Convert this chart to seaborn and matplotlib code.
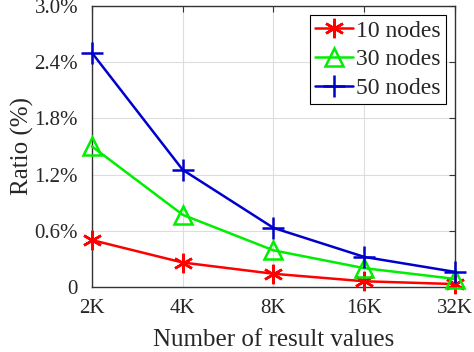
import matplotlib
matplotlib.use('Agg')
import matplotlib.pyplot as plt
import seaborn as sns
import pandas as pd

sizes = ['2K', '4K', '8K', '16K', '32K']
nodes_10 = [0.50, 0.26, 0.14, 0.06, 0.03]
nodes_30 = [1.50, 0.77, 0.39, 0.20, 0.085]
nodes_50 = [2.50, 1.25, 0.63, 0.32, 0.16]
yticks = [0, 0.6, 1.2, 1.8, 2.4, 3.0]
ytick_labels = ['0', '0.6%', '1.2%', '1.8%', '2.4%', '3.0%']

sns.set_style('white')
plt.rcParams['font.family'] = ['Liberation Serif', 'DejaVu Serif']

df = pd.DataFrame({
    'x': list(range(len(sizes))) * 3,
    'ratio': nodes_10 + nodes_30 + nodes_50,
    'series': ['10 nodes'] * 5 + ['30 nodes'] * 5 + ['50 nodes'] * 5,
})

fig = plt.figure(figsize=(4.74, 3.52), dpi=100)
ax = fig.add_axes([0.194, 0.185, 0.766, 0.798])

# colour, marker, size
styles = {
    '10 nodes': ('#ff0000', (6, 2, 0), 14),
    '30 nodes': ('#00ee00', '^', 13),
    '50 nodes': ('#0000cc', '+', 16),
}
for name, grp in df.groupby('series'):
    c, m, ms = styles[name]
    sns.lineplot(data=grp, x='x', y='ratio', ax=ax, color=c, lw=1.8,
                 label=name)
    ln = ax.lines[-1]
    ln.set_marker(m)
    ln.set_markersize(ms)
    ln.set_markerfacecolor('none')
    ln.set_markeredgecolor(c)
    ln.set_markeredgewidth(1.8)
    ln.set_clip_on(False)
    ln.set_zorder(5)

ax.set_xlim(0, 4)
ax.set_ylim(0, 3.0)
ax.set_xticks(range(len(sizes)))
ax.set_xticklabels(sizes, fontsize=15)
ax.set_yticks(yticks)
ax.set_yticklabels(ytick_labels, fontsize=15)
ax.set_xlabel('Number of result values', fontsize=18, labelpad=8)
ax.set_ylabel('Ratio (%)', fontsize=18, labelpad=0)
ax.grid(True, color='#dddddd', lw=0.8)
ax.tick_params(direction='in', length=4, top=True, right=True, color='#333333')
ax.tick_params(axis='x', pad=9)
ax.tick_params(axis='y', pad=10)
for s in ax.spines.values():
    s.set_color('#333333')
    s.set_linewidth(1.0)
    s.set_visible(True)

leg = ax.legend(loc='upper right', fontsize=17, frameon=True, fancybox=False,
                edgecolor='black', borderpad=0.2, labelspacing=0.3,
                handlelength=1.6, handletextpad=0.15, borderaxespad=0.4,
                framealpha=1)
leg.get_frame().set_linewidth(0.8)
leg.set_zorder(10)

fig.savefig('out.png', dpi=100)
